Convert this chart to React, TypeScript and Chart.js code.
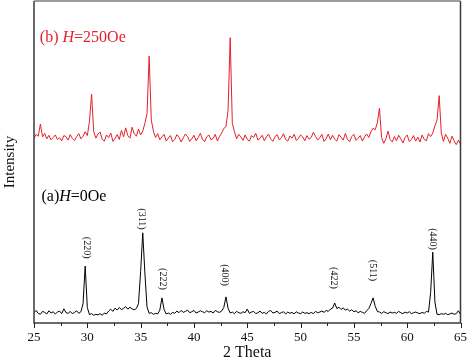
import { useEffect, useRef } from 'react';
import { Chart, registerables } from 'chart.js';

Chart.register(...registerables);

// 2θ sampling (degrees)
const twoTheta: number[] = [
  25.0, 25.2, 25.4, 25.6, 25.8, 26.0, 26.2, 26.4, 26.6, 26.8,
  27.0, 27.2, 27.4, 27.6, 27.8, 28.0, 28.2, 28.4, 28.6, 28.8,
  29.0, 29.2, 29.4, 29.6, 29.8, 30.0, 30.2, 30.4, 30.6, 30.8,
  31.0, 31.2, 31.4, 31.6, 31.8, 32.0, 32.2, 32.4, 32.6, 32.8,
  33.0, 33.2, 33.4, 33.6, 33.8, 34.0, 34.2, 34.4, 34.6, 34.8,
  35.0, 35.2, 35.4, 35.6, 35.8, 36.0, 36.2, 36.4, 36.6, 36.8,
  37.0, 37.2, 37.4, 37.6, 37.8, 38.0, 38.2, 38.4, 38.6, 38.8,
  39.0, 39.2, 39.4, 39.6, 39.8, 40.0, 40.2, 40.4, 40.6, 40.8,
  41.0, 41.2, 41.4, 41.6, 41.8, 42.0, 42.2, 42.4, 42.6, 42.8,
  43.0, 43.2, 43.4, 43.6, 43.8, 44.0, 44.2, 44.4, 44.6, 44.8,
  45.0, 45.2, 45.4, 45.6, 45.8, 46.0, 46.2, 46.4, 46.6, 46.8,
  47.0, 47.2, 47.4, 47.6, 47.8, 48.0, 48.2, 48.4, 48.6, 48.8,
  49.0, 49.2, 49.4, 49.6, 49.8, 50.0, 50.2, 50.4, 50.6, 50.8,
  51.0, 51.2, 51.4, 51.6, 51.8, 52.0, 52.2, 52.4, 52.6, 52.8,
  53.0, 53.2, 53.4, 53.6, 53.8, 54.0, 54.2, 54.4, 54.6, 54.8,
  55.0, 55.2, 55.4, 55.6, 55.8, 56.0, 56.2, 56.4, 56.6, 56.8,
  57.0, 57.2, 57.4, 57.6, 57.8, 58.0, 58.2, 58.4, 58.6, 58.8,
  59.0, 59.2, 59.4, 59.6, 59.8, 60.0, 60.2, 60.4, 60.6, 60.8,
  61.0, 61.2, 61.4, 61.6, 61.8, 62.0, 62.2, 62.4, 62.6, 62.8,
  63.0, 63.2, 63.4, 63.6, 63.8, 64.0, 64.2, 64.4, 64.6, 64.8,
  65.0,
];

// (a) H = 0 Oe  (black, lower pattern)
const intensityA: number[] = [
  3.2, 3.9, 3.0, 2.7, 3.6, 3.3, 2.8, 3.8, 3.1, 3.5,
  2.8, 3.4, 3.7, 2.9, 4.4, 3.2, 3.0, 3.6, 2.9, 3.3,
  3.8, 3.0, 3.5, 6.0, 17.7, 4.8, 2.6, 2.9, 2.4, 2.7,
  2.5, 2.9, 2.4, 3.1, 2.8, 3.7, 4.3, 3.6, 4.6, 4.0,
  4.8, 4.2, 4.5, 5.1, 4.3, 4.9, 4.4, 4.1, 4.5, 6.0,
  16.0, 28.0, 15.5, 5.0, 3.0, 3.2, 2.7, 3.0, 2.8, 4.0,
  7.8, 4.2, 2.8, 3.1, 2.7, 3.3, 3.0, 3.7, 3.2, 3.9,
  3.3, 3.6, 4.0, 3.2, 3.5, 3.9, 3.1, 3.4, 3.8, 3.5,
  3.2, 3.8, 3.4, 3.6, 3.1, 3.9, 3.5, 3.3, 3.7, 4.8,
  8.1, 4.6, 3.1, 3.4, 2.9, 3.6, 3.2, 3.0, 3.5, 3.2,
  4.3, 3.0, 3.4, 3.6, 2.9, 3.2, 3.7, 3.0, 3.3, 2.8,
  3.6, 3.9, 3.1, 3.3, 3.7, 2.9, 3.2, 3.5, 2.8, 3.4,
  3.0, 3.3, 2.8, 3.5, 3.1, 2.9, 3.4, 3.0, 3.2, 2.9,
  3.3, 2.9, 3.6, 3.2, 3.4, 3.7, 3.3, 3.9, 3.6, 4.3,
  4.6, 6.2, 4.5, 4.9, 4.2, 4.7, 4.0, 4.3, 3.7, 4.1,
  3.5, 3.8, 3.2, 3.6, 3.3, 3.0, 3.8, 4.5, 6.0, 7.8,
  5.2, 3.6, 3.4, 3.0, 3.5, 3.2, 2.9, 3.4, 3.1, 3.3,
  3.0, 3.6, 3.2, 2.9, 3.4, 3.1, 3.5, 2.9, 3.2, 3.4,
  3.1, 2.9, 3.3, 3.0, 3.6, 3.4, 9.5, 22.0, 6.5, 2.7,
  2.6, 2.9, 2.7, 3.0, 2.6, 2.8, 3.1, 2.7, 2.9, 3.8,
  2.7,
];

// (b) H = 250 Oe  (red, upper pattern, offset upward)
const intensityB: number[] = [
  57.4, 58.6, 58.0, 61.8, 57.8, 58.9, 57.2, 58.3, 56.9, 57.6,
  58.4, 57.0, 57.5, 56.6, 58.2, 57.9, 56.8, 58.5, 57.3, 56.7,
  57.9, 58.8, 57.2, 58.0, 59.4, 58.2, 62.5, 71.1, 59.5, 57.4,
  58.7, 59.3, 57.0, 56.5, 58.4, 57.6, 59.0, 56.4, 57.3, 58.5,
  57.0, 59.8, 57.8, 60.6, 58.2, 57.4, 60.8, 58.8, 58.0, 60.2,
  58.4, 59.6, 62.0, 65.0, 82.9, 63.0, 59.6, 57.6, 58.8, 56.9,
  57.8, 58.6, 56.5, 57.4, 58.2, 56.3, 57.0, 58.5, 57.7, 56.2,
  57.5, 58.7, 57.9, 56.4, 57.2, 58.3, 56.6, 57.6, 58.9, 57.1,
  56.3, 57.8, 58.4, 56.9, 57.3, 58.6, 56.5, 57.9, 59.0, 60.4,
  61.0, 66.0, 88.6, 62.0, 59.4, 57.2, 58.6, 57.8, 56.7, 58.4,
  57.0, 56.5, 58.2, 57.6, 58.9, 56.8, 57.4, 58.3, 56.6, 57.8,
  58.7, 57.2, 56.4, 57.9, 58.5, 56.9, 57.5, 58.8, 57.0, 56.5,
  58.1, 57.4, 58.6, 56.7, 57.3, 58.4, 57.8, 56.6, 58.2, 57.1,
  57.6, 59.2, 58.0, 56.8, 57.5, 58.6, 56.4, 57.2, 58.7, 56.9,
  58.3, 57.1, 56.5, 58.5, 57.7, 56.8, 58.9, 57.0, 56.3, 57.9,
  58.6, 56.7, 57.4, 58.2, 56.5, 57.8, 58.7, 57.6, 59.4, 60.5,
  60.0, 62.2, 66.7, 57.6, 55.8, 57.2, 59.6, 57.0, 56.2, 57.9,
  56.6, 58.3, 57.2, 55.9, 57.6, 58.4, 56.3, 57.0, 58.2, 56.5,
  57.7, 56.2, 58.4, 57.0, 56.6, 58.8, 57.9, 59.0, 61.2, 63.0,
  70.6, 59.0, 56.4, 58.6, 57.4, 55.8, 58.0, 56.6, 55.4, 56.8,
  55.6,
];

const xTicks: number[] = [25, 30, 35, 40, 45, 50, 55, 60, 65];
const xMinorTicks: number[] = [27.5, 32.5, 37.5, 42.5, 47.5, 52.5, 57.5, 62.5];

const peakLabels: string[] = ['(220)', '(311)', '(222)', '(400)', '(422)', '(511)', '(440)'];
const peakLabelX: number[] = [29.91, 35.09, 37.08, 42.87, 53.08, 56.79, 62.41];
const peakLabelY: number[] = [23.4, 32.3, 13.7, 14.9, 14.0, 16.3, 26.1];

const seriesLabelA: string[] = ['(a)', 'H', '=0Oe'];
const seriesLabelB: string[] = ['(b) ', 'H', '=250Oe'];
const seriesLabelPosA: number[] = [25.7, 37.9];
const seriesLabelPosB: number[] = [25.55, 87.3];

const RED = '#e5202b';
const FONT = '"Liberation Serif", "Times New Roman", serif';

const overlayPlugin = {
  id: 'overlay',
  afterDatasetsDraw(chart: any) {
    const { ctx, chartArea: a, scales } = chart;
    const x = scales.x;
    const y = scales.y;
    ctx.save();

    // frame
    ctx.lineWidth = 1.5;
    ctx.strokeStyle = '#3a3a3a';
    ctx.beginPath();
    ctx.moveTo(a.left, a.top);
    ctx.lineTo(a.left, a.bottom);
    ctx.lineTo(a.right, a.bottom);
    ctx.lineTo(a.right, a.top);
    ctx.stroke();
    ctx.strokeStyle = '#7a7a7a';
    ctx.beginPath();
    ctx.moveTo(a.left, a.top);
    ctx.lineTo(a.right, a.top);
    ctx.stroke();

    // outward ticks on the bottom axis
    ctx.strokeStyle = '#222';
    ctx.lineWidth = 1;
    ctx.beginPath();
    xTicks.forEach((v) => {
      const px = Math.round(x.getPixelForValue(v)) + 0.5;
      ctx.moveTo(px, a.bottom);
      ctx.lineTo(px, a.bottom + 5);
    });
    xMinorTicks.forEach((v) => {
      const px = Math.round(x.getPixelForValue(v)) + 0.5;
      ctx.moveTo(px, a.bottom);
      ctx.lineTo(px, a.bottom + 3);
    });
    ctx.stroke();

    // hkl labels (rotated)
    ctx.fillStyle = '#111';
    ctx.font = `10px ${FONT}`;
    ctx.textAlign = 'center';
    ctx.textBaseline = 'middle';
    peakLabels.forEach((t, i) => {
      ctx.save();
      ctx.translate(x.getPixelForValue(peakLabelX[i]), y.getPixelForValue(peakLabelY[i]));
      ctx.rotate(Math.PI / 2);
      ctx.fillText(t, 0, 0);
      ctx.restore();
    });

    // series labels with italic H
    const drawParts = (parts: string[], pos: number[], color: string) => {
      let px = x.getPixelForValue(pos[0]);
      const py = y.getPixelForValue(pos[1]);
      ctx.fillStyle = color;
      ctx.textAlign = 'left';
      ctx.textBaseline = 'alphabetic';
      parts.forEach((p, i) => {
        ctx.font = i === 1 ? `italic 16px ${FONT}` : `16px ${FONT}`;
        ctx.fillText(p, px, py);
        px += ctx.measureText(p).width;
      });
    };
    drawParts(seriesLabelB, seriesLabelPosB, RED);
    drawParts(seriesLabelA, seriesLabelPosA, '#000');

    ctx.restore();
  },
};

export default function App() {
  const canvasRef = useRef<HTMLCanvasElement | null>(null);

  useEffect(() => {
    if (!canvasRef.current) return;
    const chart = new Chart(canvasRef.current, {
      type: 'line',
      data: {
        datasets: [
          {
            label: 'H=250Oe',
            data: twoTheta.map((t, i) => ({ x: t, y: intensityB[i] })),
            borderColor: RED,
            borderWidth: 1,
            pointRadius: 0,
            tension: 0,
          },
          {
            label: 'H=0Oe',
            data: twoTheta.map((t, i) => ({ x: t, y: intensityA[i] })),
            borderColor: '#000',
            borderWidth: 1,
            pointRadius: 0,
            tension: 0,
          },
        ],
      },
      options: {
        responsive: false,
        animation: false,
        devicePixelRatio: 1,
        layout: { padding: { top: 1, right: 7, left: 0, bottom: 0 } },
        plugins: { legend: { display: false }, tooltip: { enabled: false } },
        scales: {
          x: {
            type: 'linear',
            min: 25,
            max: 65,
            afterBuildTicks: (s: any) => {
              s.ticks = xTicks.map((v) => ({ value: v }));
            },
            afterFit: (s: any) => {
              s.height = 41;
            },
            grid: { display: false, drawTicks: false, tickLength: 0 },
            border: { display: false },
            ticks: {
              color: '#111',
              padding: 7,
              maxRotation: 0,
              autoSkip: false,
              font: { family: FONT, size: 13 },
            },
            title: {
              display: true,
              text: '2 Theta',
              color: '#111',
              font: { family: FONT, size: 16 },
              padding: { top: 0, bottom: 2 },
            },
          },
          y: {
            type: 'linear',
            min: 0,
            max: 100,
            afterFit: (s: any) => {
              s.width = 34;
            },
            grid: { display: false, drawTicks: false, tickLength: 0 },
            border: { display: false },
            ticks: { display: false },
            title: {
              display: true,
              text: 'Intensity',
              color: '#111',
              font: { family: FONT, size: 15 },
              padding: { top: 1, bottom: 0 },
            },
          },
        },
      },
      plugins: [overlayPlugin],
    });
    return () => chart.destroy();
  }, []);

  return (
    <div style={{ position: 'fixed', left: 0, top: 0, width: 474, height: 364, background: '#fff' }}>
      <canvas ref={canvasRef} width={474} height={364} />
    </div>
  );
}
